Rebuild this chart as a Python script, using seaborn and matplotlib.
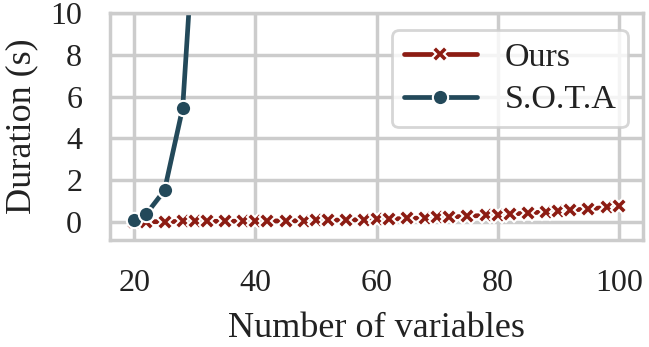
import numpy as np
import pandas as pd
import matplotlib
matplotlib.use("Agg")
import matplotlib.pyplot as plt
import seaborn as sns

# ---- data ----
ours_x = [20, 22, 25, 28, 30, 32, 35, 38, 40, 42, 45, 48, 50, 52, 55, 58, 60,
          62, 65, 68, 70, 72, 75, 78, 80, 82, 85, 88, 90, 92, 95, 98, 100]
ours_y = [0.01, 0.01, 0.01, 0.02, 0.02, 0.02, 0.03, 0.03, 0.04, 0.04, 0.05,
          0.06, 0.07, 0.08, 0.09, 0.11, 0.12, 0.14, 0.16, 0.19, 0.21, 0.23,
          0.27, 0.31, 0.34, 0.37, 0.42, 0.48, 0.52, 0.56, 0.62, 0.69, 0.74]
sota_x = [20, 22, 25, 28, 30]
sota_y = [0.10, 0.38, 1.51, 5.46, 14.5]
sota_lo = [0.05, 0.30, 1.30, 5.00, 13.5]
sota_hi = [0.15, 0.46, 1.70, 5.90, 15.5]
labels = ["Ours", "S.O.T.A"]
xticks = [20, 40, 60, 80, 100]
yticks = [0, 2, 4, 6, 8, 10]

df = pd.concat([
    pd.DataFrame({"n": ours_x, "t": ours_y, "method": labels[0]}),
    pd.DataFrame({"n": sota_x, "t": sota_y, "method": labels[1]}),
])

sns.set_theme(style="whitegrid")
plt.rcParams["font.family"] = ["Liberation Serif", "DejaVu Serif"]
plt.rcParams["axes.edgecolor"] = "#cccccc"
plt.rcParams["grid.color"] = "#cccccc"
plt.rcParams["text.color"] = "#222222"
plt.rcParams["axes.labelcolor"] = "#222222"
plt.rcParams["xtick.color"] = "#222222"
plt.rcParams["ytick.color"] = "#222222"

colors = {"Ours": "#8c1c13", "S.O.T.A": "#23495a"}

fig = plt.figure(figsize=(6.49, 3.47), dpi=100)
ax = fig.add_axes([110 / 649, (347 - 240) / 347, (643 - 110) / 649, (240 - 13) / 347])

ax.fill_between(sota_x, sota_lo, sota_hi, color=colors["S.O.T.A"], alpha=0.15, lw=0)
sns.lineplot(data=df, x="n", y="t", hue="method", style="method",
             palette=colors, markers={"Ours": "X", "S.O.T.A": "o"},
             dashes=False, linewidth=3.4, markersize=11, markeredgecolor="white",
             markeredgewidth=1.5, ax=ax)

ax.set_xlim(16, 104)
ax.set_ylim(-0.87, 10)
ax.set_xticks(xticks)
ax.set_yticks(yticks)
ax.tick_params(axis="both", labelsize=23, length=0)
ax.tick_params(axis="x", pad=21)
ax.tick_params(axis="y", pad=20)
ax.set_xlabel("Number of variables", fontsize=26, labelpad=10)
ax.set_ylabel("Duration (s)", fontsize=26, labelpad=9)
for s in ax.spines.values():
    s.set_linewidth(2.5)
    s.set_color("#cccccc")
ax.grid(True, linewidth=2.5, color="#cccccc")

leg = ax.legend(title=None, loc="upper right", fontsize=24.5, frameon=True,
                handlelength=2.15, borderpad=0.35, labelspacing=0.35,
                handletextpad=0.8, borderaxespad=0,
                bbox_to_anchor=(0.972, 0.925))
leg.get_frame().set_edgecolor("#cccccc")
leg.get_frame().set_linewidth(2)
for h in leg.legend_handles:
    h.set_linewidth(3.4)
    h.set_markersize(11)

fig.savefig("out.png", dpi=100)
